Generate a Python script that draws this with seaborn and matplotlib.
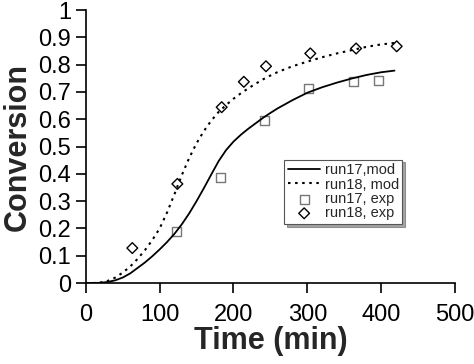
import pandas as pd
import numpy as np
import matplotlib.pyplot as plt
import seaborn as sns

# model curves
mod_time = [0, 10, 20, 30, 40, 50, 60, 70, 80, 90, 100, 110, 120, 130, 140, 150,
            160, 170, 180, 190, 200, 210, 220, 230, 240, 250, 260, 280, 300, 320,
            340, 360, 380, 400]
run17_mod = [0, 0, 0.001, 0.004, 0.010, 0.020, 0.035, 0.055, 0.075, 0.098, 0.123,
             0.150, 0.180, 0.215, 0.255, 0.300, 0.348, 0.398, 0.447, 0.487, 0.518,
             0.543, 0.565, 0.585, 0.605, 0.623, 0.640, 0.670, 0.697, 0.717, 0.734,
             0.749, 0.762, 0.772]
run18_mod = [0, 0, 0.002, 0.008, 0.020, 0.038, 0.060, 0.088, 0.120, 0.157, 0.200,
             0.258, 0.325, 0.395, 0.458, 0.512, 0.557, 0.595, 0.627, 0.652, 0.675,
             0.695, 0.713, 0.730, 0.746, 0.760, 0.773, 0.794, 0.811, 0.827, 0.841,
             0.853, 0.865, 0.874]
end17 = (418, 0.778)
end18 = (420, 0.880)

# experimental points
run17_t = [123, 182, 242, 302, 363, 397]
run17_exp = [0.187, 0.387, 0.595, 0.713, 0.739, 0.741]
run18_t = [63, 124, 184, 214, 244, 304, 366, 421]
run18_exp = [0.128, 0.363, 0.644, 0.737, 0.794, 0.841, 0.859, 0.867]

sns.set_style('ticks')
plt.rcParams['font.family'] = ['Liberation Sans', 'DejaVu Sans']

df17 = pd.DataFrame({'t': mod_time + [end17[0]], 'c': run17_mod + [end17[1]]})
df18 = pd.DataFrame({'t': mod_time + [end18[0]], 'c': run18_mod + [end18[1]]})
e17 = pd.DataFrame({'t': run17_t, 'c': run17_exp})
e18 = pd.DataFrame({'t': run18_t, 'c': run18_exp})

fig = plt.figure(figsize=(4.74, 3.64), dpi=100)
ax = fig.add_axes([0.181, 0.2225, 0.779, 0.75])

sns.lineplot(data=df17, x='t', y='c', ax=ax, color='black', lw=1.3,
             label='run17,mod', sort=False)
sns.lineplot(data=df18, x='t', y='c', ax=ax, color='black', lw=1.5,
             linestyle=(0, (1.2, 2.2)), label='run18, mod', sort=False)
sns.scatterplot(data=e17, x='t', y='c', ax=ax, marker='s', s=42,
                fc='none', ec='#777777', linewidth=1, label='run17, exp')
sns.scatterplot(data=e18, x='t', y='c', ax=ax, marker='D', s=30,
                fc='none', ec='black', linewidth=1, label='run18, exp')

ax.set_xlim(0, 500)
ax.set_ylim(0, 1)
ax.set_xticks(range(0, 501, 100))
ax.set_yticks(np.round(np.arange(0, 1.01, 0.1), 1))
ax.set_yticklabels(['0', '0.1', '0.2', '0.3', '0.4', '0.5', '0.6', '0.7', '0.8', '0.9', '1'])
ax.tick_params(axis='both', labelsize=17, length=7, width=1.2, color='black',
               labelcolor='black')
ax.tick_params(axis='x', pad=8)
for side in ['left', 'bottom']:
    ax.spines[side].set_linewidth(1.2)
    ax.spines[side].set_color('black')
sns.despine(ax=ax)

ax.set_xlabel('Time (min)', fontsize=22, fontweight='bold', labelpad=0)
ax.set_ylabel('Conversion', fontsize=22, fontweight='bold', labelpad=4)

leg = ax.legend(loc='upper left', bbox_to_anchor=(0.538, 0.452), fontsize=10.5,
                frameon=True, fancybox=False, shadow=True, framealpha=1,
                edgecolor='#555555', handlelength=2.2, borderpad=0.25,
                labelspacing=0.02, handletextpad=0.3, borderaxespad=0)
leg.get_frame().set_linewidth(0.8)

fig.savefig('out.png', dpi=100)
